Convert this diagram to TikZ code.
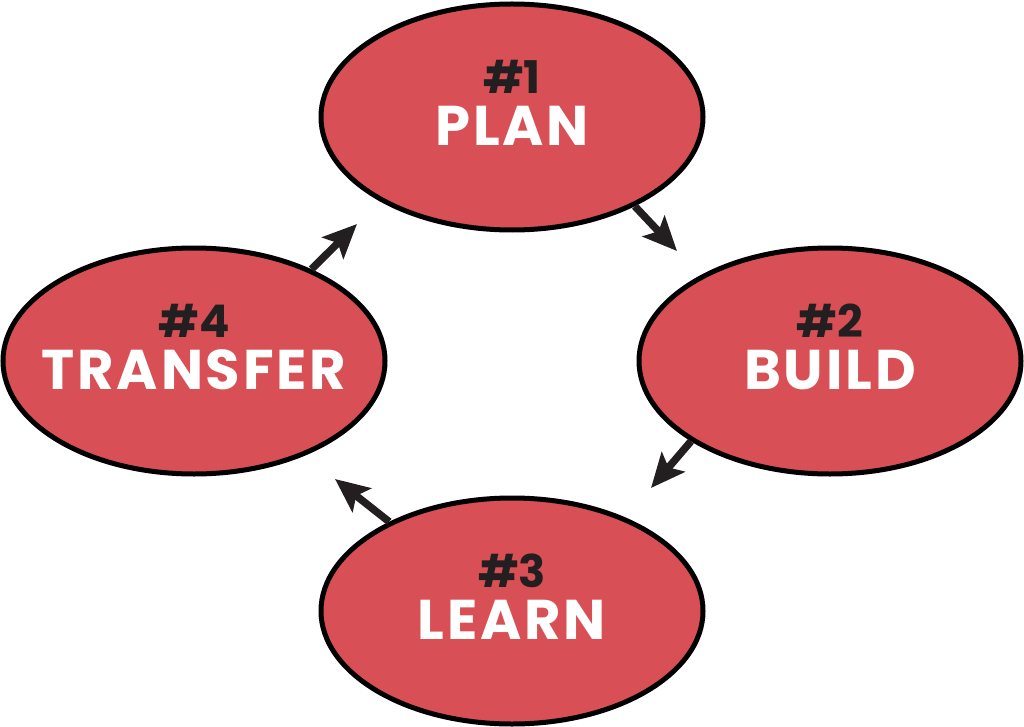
\documentclass[tikz,border=0pt]{standalone}
\usepackage{fontspec}
\setmainfont{Poppins}
\usetikzlibrary{shapes.geometric,arrows.meta}
\definecolor{bubblered}{HTML}{D85055}
\definecolor{darktext}{HTML}{231F20}
\tikzset{
  bubble/.style={ellipse, draw=black, line width=5pt, fill=bubblered,
    minimum width=382pt, minimum height=226pt, inner sep=0pt},
  txt/.style={align=center, inner sep=0pt, font=\bfseries\fontsize{56}{52}\selectfont},
  flow/.style={line width=7.5pt, draw=darktext,
    -{Stealth[length=34pt,width=30pt,inset=7pt]}}
}
\newcommand{\numtxt}[1]{{\fontsize{45}{52}\selectfont\color{darktext}#1}}
\newcommand{\wordtxt}[1]{{\addfontfeature{LetterSpace=5}\color{white}#1}}
\begin{document}
\begin{tikzpicture}[x=1pt,y=-1pt]
\useasboundingbox (0,0) rectangle (1024,727);
\node[bubble] (plan) at (512,117) {};
\node[bubble] (build) at (830,361) {};
\node[bubble] (learn) at (512,611) {};
\node[bubble] (transfer) at (194,361) {};
\node[txt] (plantxt) at ([yshift=14pt]plan.center) {\numtxt{\#1}\\\wordtxt{PLAN}};
\node[txt] (buildtxt) at ([yshift=14pt]build.center) {\numtxt{\#2}\\\wordtxt{BUILD}};
\node[txt] (learntxt) at ([yshift=14pt]learn.center) {\numtxt{\#3}\\\wordtxt{LEARN}};
\node[txt] (transfertxt) at ([yshift=14pt]transfer.center) {\numtxt{\#4}\\\wordtxt{TRANSFER}};
\coordinate (t1) at (677,251);
\coordinate (t2) at (651,488);
\coordinate (t3) at (335,479);
\coordinate (t4) at (357,224);
\draw[flow] (plan.-36.5) -- (t1);
\draw[flow] (build.210.4) -- (t2);
\draw[flow] (learn.144.8) -- (t3);
\draw[flow] (transfer.38.6) -- (t4);
\end{tikzpicture}
\end{document}
